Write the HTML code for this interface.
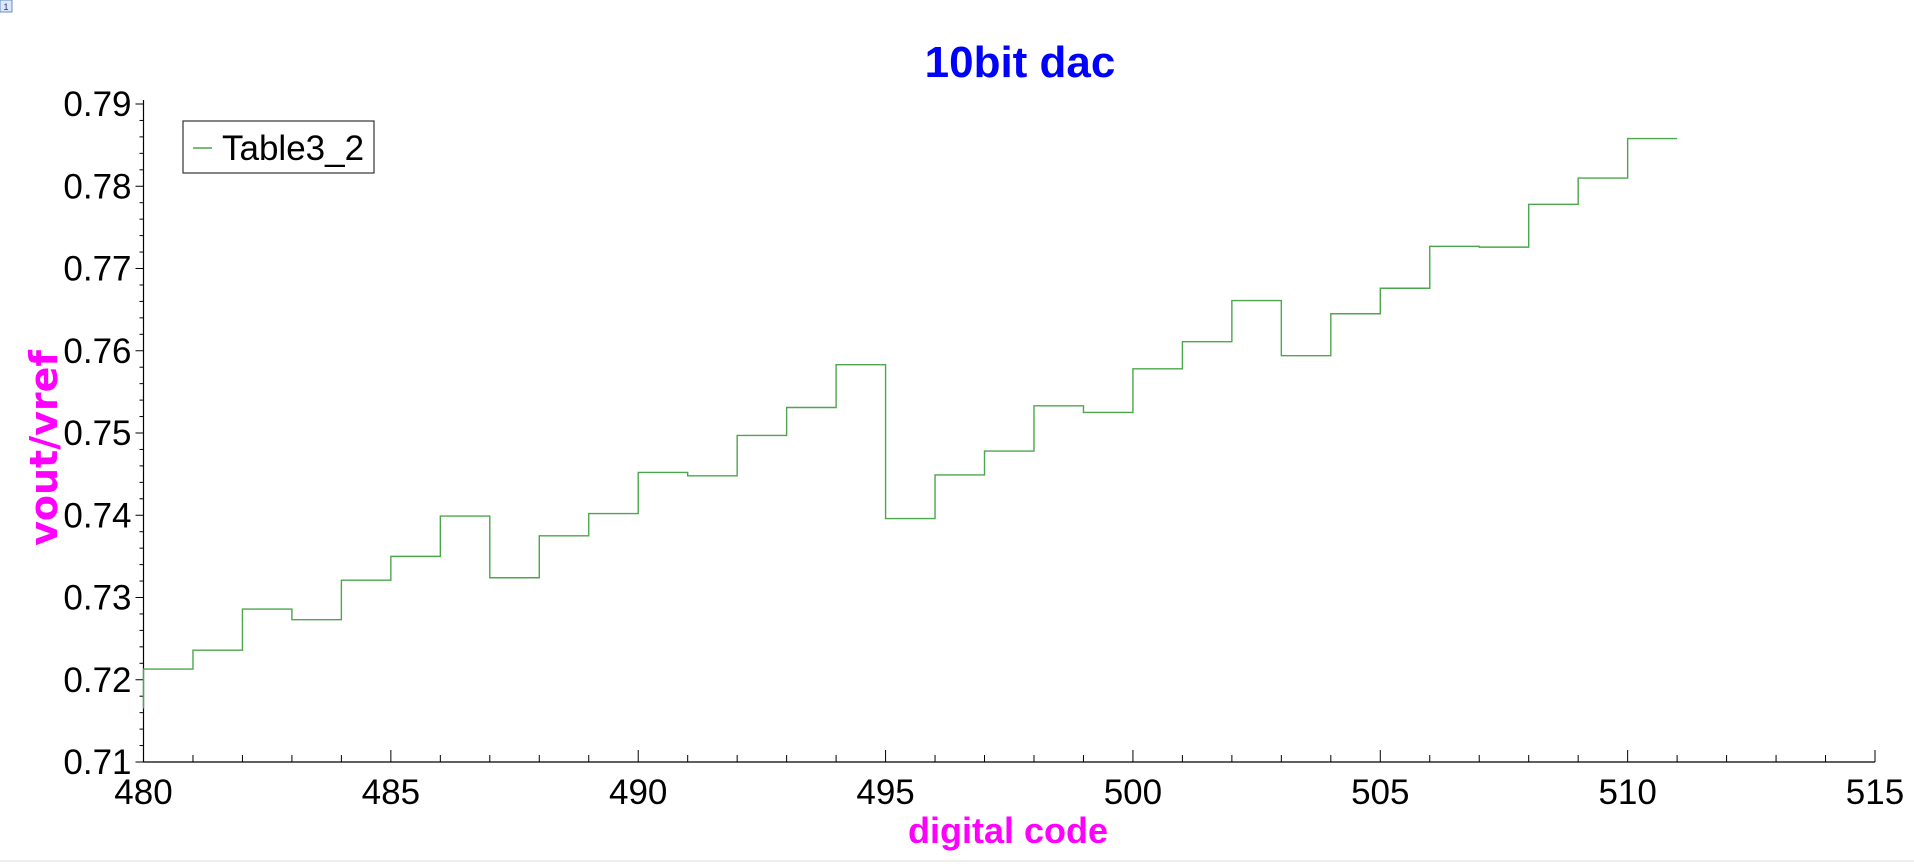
<!DOCTYPE html>
<html><head><meta charset="utf-8"><style>
body{margin:0;background:#fff;width:1914px;height:863px;overflow:hidden;font-family:"Liberation Sans",sans-serif}
</style></head><body>
<svg width="1914" height="863">
<rect x="0" y="0" width="12" height="12" fill="#dbe8f8" stroke="#6a8cc0"/>
<text x="6" y="10" font-size="9" text-anchor="middle" fill="#335">1</text>
<line x1="0" y1="861" x2="1914" y2="861" stroke="#ddd"/>
<text x="1020" y="77" font-size="44" font-weight="bold" fill="#0000ff" text-anchor="middle">10bit dac</text>
<text transform="translate(57,448) rotate(-90)" font-family="DejaVu Sans" font-size="38" font-weight="bold" fill="#ff00ff" text-anchor="middle">vout/vref</text>
<text x="1008" y="843" font-size="36" font-weight="bold" fill="#ff00ff" text-anchor="middle">digital code</text>
<g id="axes"></g>
<path id="series" fill="none" stroke="#4ca64c" stroke-width="1.4"/>
<g>
<rect x="183" y="121" width="191" height="52" fill="#fff" stroke="#333" stroke-width="1.2"/>
<line x1="193" y1="148" x2="212" y2="148" stroke="#4ca64c" stroke-width="1.4"/>
<text x="222" y="160" font-size="35" fill="#000">Table3_2</text>
</g>
</svg>
<script>
const codes=[480,481,482,483,484,485,486,487,488,489,490,491,492,493,494,495,496,497,498,499,500,501,502,503,504,505,506,507,508,509,510];
const values=[0.7213,0.7236,0.7286,0.7273,0.7321,0.7350,0.7399,0.7324,0.7375,0.7402,0.7452,0.7448,0.7497,0.7531,0.7583,0.7396,0.7449,0.7478,0.7533,0.7525,0.7578,0.7611,0.7661,0.7594,0.7645,0.7676,0.7727,0.7726,0.7778,0.7810,0.7858];
const startValue=0.7165;
const xTicks=[480,485,490,495,500,505,510,515];
const yTicks=[0.71,0.72,0.73,0.74,0.75,0.76,0.77,0.78,0.79];
const X0=143.5,X1=1875,Y0=762,Y1=104;
const xs=v=>X0+(v-480)/(515-480)*(X1-X0);
const ys=v=>Y0-(v-0.71)/(0.79-0.71)*(Y0-Y1);
const NS="http://www.w3.org/2000/svg";
const ax=document.getElementById('axes');
function el(t,a){const e=document.createElementNS(NS,t);for(const k in a)e.setAttribute(k,a[k]);ax.appendChild(e);return e;}
let e=el('line',{x1:X0,y1:Y0,x2:X1,y2:Y0,stroke:'#000','stroke-width':1.2});


e=el('line',{x1:X0,y1:Y0,x2:X0,y2:Y1-4,stroke:'#000','stroke-width':1.2});


for(let c=480;c<=515;c++){const maj=(c%5===0);
 e=el('line',{x1:xs(c),y1:Y0,x2:xs(c),y2:Y0-(maj?12:7),stroke:'#000','stroke-width':1});
 
 }
xTicks.forEach(t=>{e=el('text',{x:xs(t),y:Y0+42,'font-size':35,'text-anchor':'middle',fill:'#000'});e.textContent=t;
 
 });
for(let i=0;i<=40;i++){const v=0.71+i*0.002;const maj=(i%5===0);
 e=el('line',{x1:X0-(maj?8:4),y1:ys(v),x2:X0,y2:ys(v),stroke:'#000','stroke-width':1});
 
 }
yTicks.forEach(t=>{e=el('text',{x:X0-12,y:ys(t)+12,'font-size':35,'text-anchor':'end',fill:'#000'});e.textContent=t.toFixed(2);
 
 });
let d='M'+xs(codes[0])+','+ys(startValue);
codes.forEach((c,i)=>{d+=' L'+xs(c)+','+ys(values[i])+' L'+xs(c+1)+','+ys(values[i]);});
document.getElementById('series').setAttribute('d',d);
</script>
</body></html>
